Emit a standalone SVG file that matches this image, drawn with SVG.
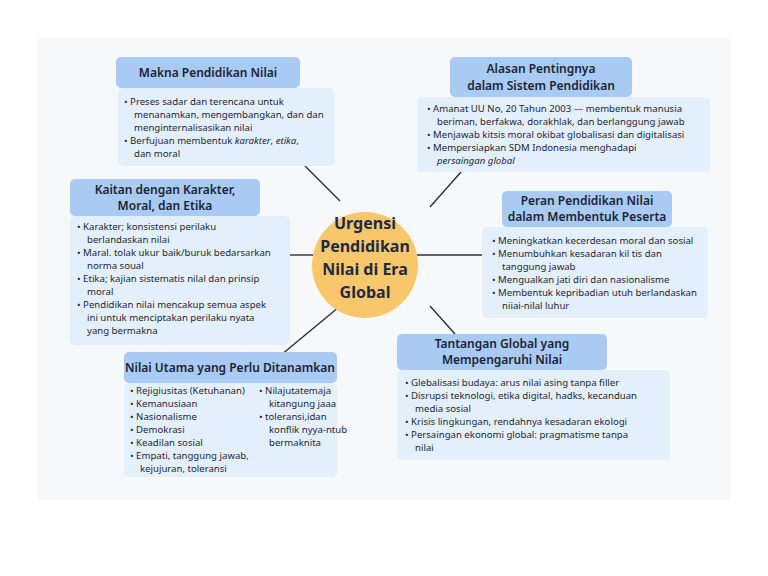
<svg xmlns="http://www.w3.org/2000/svg" width="768" height="576" viewBox="0 0 768 576">
<style>
.h{fill:#A8CAF3}
.b{fill:#E4EFFC}
.ht{font-family:"Noto Sans",sans-serif;font-size:12px;font-weight:600;fill:#1b2433;text-anchor:middle}
.t{font-family:"Noto Sans",sans-serif;font-size:9.6px;fill:#1f2733}
.c{stroke:#2a2f38;stroke-width:1.4;fill:none}
</style>
<rect width="768" height="576" fill="#fff"/>
<rect x="38" y="38" width="692" height="462" fill="#F7F8FA"/>
<g id="connectors">
<line class="c" x1="305" y1="166" x2="340" y2="201"/>
<line class="c" x1="290" y1="255" x2="313" y2="255"/>
<line class="c" x1="339" y1="307" x2="281" y2="355"/>
<line class="c" x1="461" y1="172" x2="430" y2="207"/>
<line class="c" x1="417" y1="255" x2="482" y2="255"/>
<line class="c" x1="430" y1="306" x2="455" y2="334"/>
</g>
<g id="center">
<circle cx="365" cy="265" r="53" fill="#F9C76B"/>
<text font-family="Noto Sans,sans-serif" font-size="16px" font-weight="700" fill="#1d2a44" text-anchor="middle"><tspan x="365" y="229">Urgensi</tspan><tspan x="365" y="252">Pendidikan</tspan><tspan x="365" y="275">Nilai di Era</tspan><tspan x="365" y="298">Global</tspan></text>
</g>
<g id="makna">
<rect class="b" x="118" y="88" width="217" height="78" rx="5"/>
<rect class="h" x="116" y="57" width="184" height="31" rx="5"/>
<text class="ht" x="208" y="77">Makna Pendidikan Nilai</text>
<text class="t"><tspan x="124" y="105">• Preses sadar dan terencana untuk</tspan><tspan x="134" y="118">menanamkan, mengembangkan, dan dan</tspan><tspan x="134" y="131">menginternalisasikan nilai</tspan><tspan x="124" y="144">• Berfujuan membentuk <tspan font-style="italic">karakter</tspan>, <tspan font-style="italic">etika</tspan>,</tspan><tspan x="134" y="157">dan moral</tspan></text>
</g>
<g id="kaitan">
<rect class="b" x="70" y="216" width="220" height="129" rx="5"/>
<rect class="h" x="70" y="179" width="190" height="37" rx="5"/>
<text class="ht"><tspan x="165" y="194">Kaitan dengan Karakter,</tspan><tspan x="165" y="210">Moral, dan Etika</tspan></text>
<text class="t"><tspan x="77" y="230">• Karakter; konsistensi perilaku</tspan><tspan x="87" y="243">berlandaskan nilai</tspan><tspan x="77" y="256">• Maral. tolak ukur baik/buruk bedarsarkan</tspan><tspan x="87" y="269">norma soual</tspan><tspan x="77" y="282">• Etika; kajian sistematis nilal dan prinsip</tspan><tspan x="87" y="295">moral</tspan><tspan x="77" y="308">• Pendidikan nilai mencakup semua aspek</tspan><tspan x="87" y="321">ini untuk menciptakan perilaku nyata</tspan><tspan x="87" y="334">yang bermakna</tspan></text>
</g>
<g id="nilai-utama">
<rect class="b" x="124" y="383" width="213" height="94" rx="5"/>
<rect class="h" x="124" y="352" width="213" height="31" rx="5"/>
<text class="ht" x="230" y="372" font-size="11.5px">Nilai Utama yang Perlu Ditanamkan</text>
<text class="t"><tspan x="130" y="394">• Rejigiusitas (Ketuhanan)</tspan><tspan x="130" y="407">• Kemanusiaan</tspan><tspan x="130" y="420">• Nasionalisme</tspan><tspan x="130" y="433">• Demokrasi</tspan><tspan x="130" y="446">• Keadilan sosial</tspan><tspan x="130" y="459">• Empati, tanggung jawab,</tspan><tspan x="140" y="472">kejujuran, toleransi</tspan></text>
<text class="t"><tspan x="259" y="394">• Nilajutatemaja</tspan><tspan x="269" y="407">kitangung jaaa</tspan><tspan x="259" y="420">• toleransi,idan</tspan><tspan x="269" y="433">konflik nyya-ntub</tspan><tspan x="269" y="446">bermaknita</tspan></text>
</g>
<g id="alasan">
<rect class="b" x="417" y="97" width="293" height="75" rx="5"/>
<rect class="h" x="450" y="57" width="182" height="40" rx="5"/>
<text class="ht"><tspan x="541" y="73">Alasan Pentingnya</tspan><tspan x="541" y="90">dalam Sistem Pendidikan</tspan></text>
<text class="t"><tspan x="427" y="112">• Amanat UU No, 20 Tahun 2003 — membentuk manusia</tspan><tspan x="437" y="125">beriman, berfakwa, dorakhlak, dan berlanggung jawab</tspan><tspan x="427" y="138">• Menjawab kitsis moral okibat globalisasi dan digitalisasi</tspan><tspan x="427" y="151">• Mempersiapkan SDM Indonesia menghadapi</tspan><tspan x="437" y="164" font-style="italic">persaingan global</tspan></text>
</g>
<g id="peran">
<rect class="b" x="482" y="227" width="226" height="91" rx="5"/>
<rect class="h" x="502" y="191" width="170" height="36" rx="5"/>
<text class="ht"><tspan x="587" y="205">Peran Pendidikan Nilai</tspan><tspan x="587" y="221">dalam Membentuk Peserta</tspan></text>
<text class="t" font-size="9.3px"><tspan x="492" y="244">• Meningkatkan kecerdesan moral dan sosial</tspan><tspan x="492" y="257">• Menumbuhkan kesadaran kil tis dan</tspan><tspan x="502" y="270">tanggung jawab</tspan><tspan x="492" y="283">• Mengualkan jati diri dan nasionalisme</tspan><tspan x="492" y="296">• Membentuk kepribadian utuh berlandaskan</tspan><tspan x="502" y="309">niiai-nilal luhur</tspan></text>
</g>
<g id="tantangan">
<rect class="b" x="397" y="370" width="273" height="90" rx="5"/>
<rect class="h" x="397" y="334" width="210" height="36" rx="5"/>
<text class="ht"><tspan x="502" y="348">Tantangan Global yang</tspan><tspan x="502" y="364">Mempengaruhi Nilai</tspan></text>
<text class="t"><tspan x="405" y="386">• Glebalisasi budaya: arus nilai asing tanpa filler</tspan><tspan x="405" y="399">• Disrupsi teknologi, etika digital, hadks, kecanduan</tspan><tspan x="415" y="412">media sosial</tspan><tspan x="405" y="425">• Krisis lingkungan, rendahnya kesadaran ekologi</tspan><tspan x="405" y="438">• Persaingan ekonomi global: pragmatisme tanpa</tspan><tspan x="415" y="451">nilai</tspan></text>
</g>
</svg>
